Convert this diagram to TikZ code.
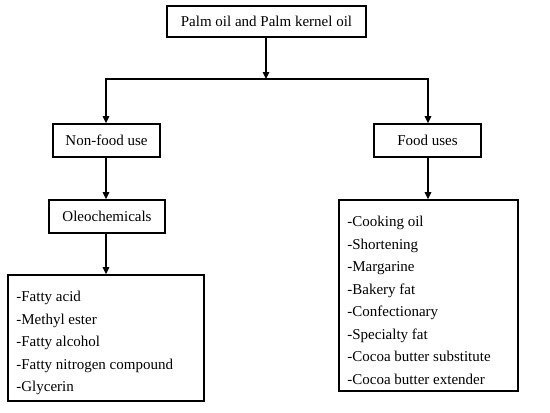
\documentclass[tikz,border=0pt]{standalone}
\usepackage{fontspec}
\setmainfont{Liberation Serif}
\usetikzlibrary{arrows.meta}
\begin{document}
\begin{tikzpicture}[x=1pt,y=-1pt,
  box/.style={draw,line width=1.6pt,inner sep=0pt,font=\fontsize{15}{22.5}\selectfont},
  listbox/.style={draw,line width=1.6pt,inner sep=0pt},
  listtext/.style={align=left,inner sep=0pt,font=\fontsize{15}{22.5}\selectfont},
  conn/.style={line width=1.5pt},
  arr/.style={conn,-{Triangle[length=7pt,width=6.5pt]}}]
\useasboundingbox (0,0) rectangle (550,413);
\node[box,minimum width=199pt,minimum height=31pt] (top) at (266.5,21.5) {Palm oil and Palm kernel oil};
\node[box,minimum width=107pt,minimum height=33pt] (nonfood) at (106.5,140.5) {Non-food use};
\node[box,minimum width=107pt,minimum height=33pt] (food) at (427.5,140.5) {Food uses};
\node[box,minimum width=116pt,minimum height=33pt] (oleo) at (107,216.5) {Oleochemicals};
\node[listbox,minimum width=196pt,minimum height=126pt] (oleolist) at (106,338) {};
\node[listbox,minimum width=179pt,minimum height=191pt] (foodlist) at (428.5,295.5) {};
\node[listtext,anchor=west] (oleotext) at ([xshift=9pt,yshift=-5pt]oleolist.west) {-Fatty acid\\-Methyl ester\\-Fatty alcohol\\-Fatty nitrogen compound\\-Glycerin};
\node[listtext,anchor=west] (foodtext) at ([xshift=9pt,yshift=-5pt]foodlist.west) {-Cooking oil\\-Shortening\\-Margarine\\-Bakery fat\\-Confectionary\\-Specialty fat\\-Cocoa butter substitute\\-Cocoa butter extender};
\coordinate (split) at (266,79);
\coordinate (splitL) at (106,79);
\coordinate (splitR) at (428,79);
\draw[arr] (top.south -| split) -- (split);
\draw[conn] ([xshift=-0.75pt]splitL) -- ([xshift=0.75pt]splitR);
\draw[arr] (splitL) -- (splitL |- nonfood.north);
\draw[arr] (splitR) -- (splitR |- food.north);
\draw[arr] (nonfood.south -| splitL) -- (oleo.north -| splitL);
\draw[arr] (oleo.south -| splitL) -- (oleolist.north -| splitL);
\draw[arr] (food.south -| splitR) -- (foodlist.north -| splitR);
\end{tikzpicture}
\end{document}
